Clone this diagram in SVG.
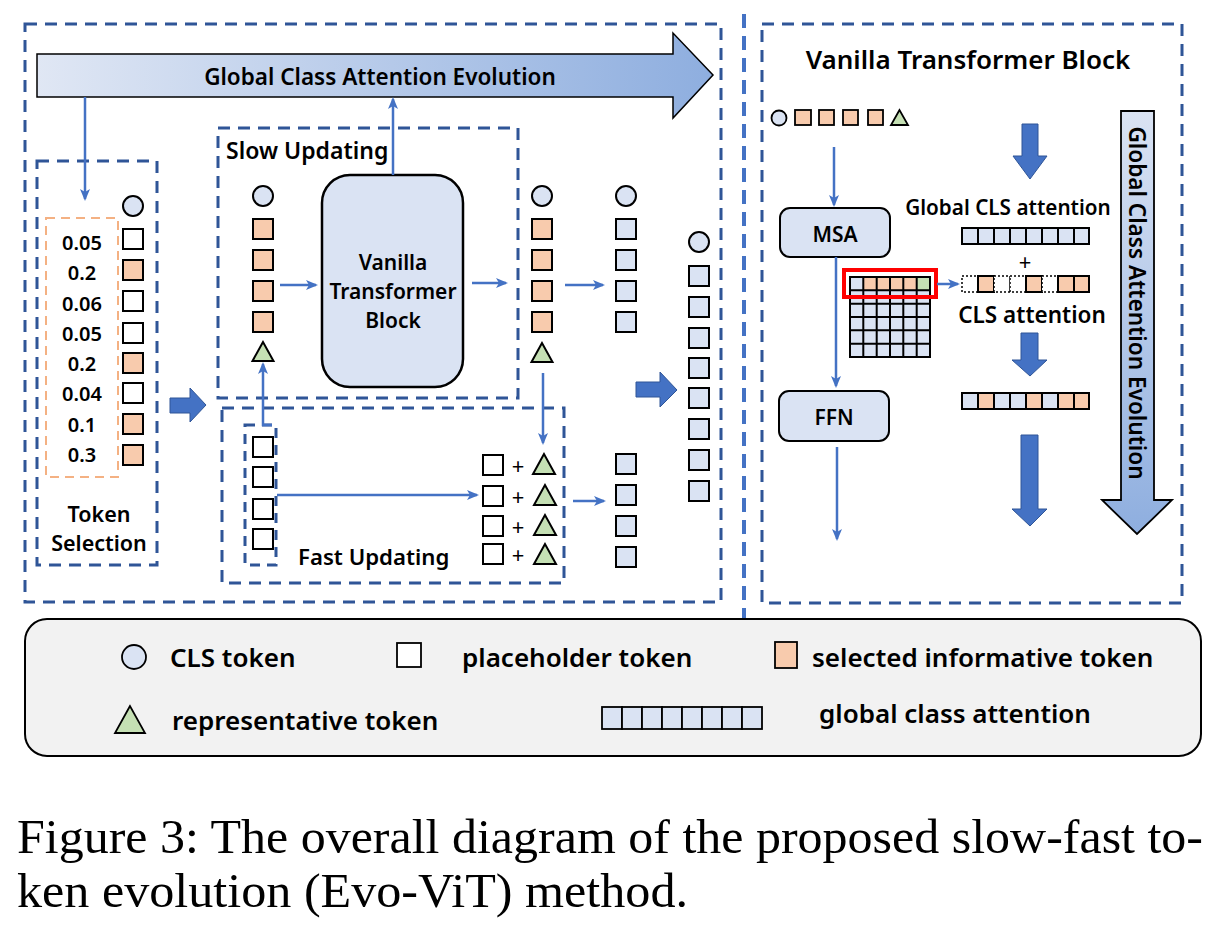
<svg xmlns="http://www.w3.org/2000/svg" width="1223" height="934" viewBox="0 0 1223 934">
<style>
.box{fill:none;stroke:#2f5597;stroke-width:3;stroke-dasharray:12 8}
.cls{fill:#dae3f3;stroke:#000;stroke-width:2}
.ph{fill:#fff;stroke:#000;stroke-width:2}
.sel{fill:#f8cbad;stroke:#000;stroke-width:2}
.rep{fill:#c5e0b4;stroke:#000;stroke-width:2}
.lb{fill:#dae3f3;stroke:#000;stroke-width:2}
.dot{fill:#fff;stroke:#000;stroke-width:1.5;stroke-dasharray:2 2}
.conn{stroke:#4472c4;stroke-width:2.5;fill:none;marker-end:url(#ah)}
.thick{fill:#4472c4;stroke:#2f5597;stroke-width:1}
.t{font-family:"Noto Sans",sans-serif;fill:#000;font-weight:600}
.c{text-anchor:middle;dominant-baseline:central}
.cap{font-family:"Liberation Serif","Times New Roman",Tinos,serif;font-size:48px;fill:#000}
</style>
<defs>
<marker id="ah" markerWidth="12" markerHeight="10" refX="10" refY="5" orient="auto" markerUnits="userSpaceOnUse">
<path d="M0,0 L12,5 L0,10 L3,5 Z" fill="#4472c4"/>
</marker>
<linearGradient id="gh" x1="0" y1="0" x2="1" y2="0">
<stop offset="0" stop-color="#e0e7f4"/><stop offset="1" stop-color="#8eaedf"/>
</linearGradient>
<linearGradient id="gv" x1="0" y1="0" x2="0" y2="1">
<stop offset="0" stop-color="#dae3f3"/><stop offset="1" stop-color="#8eaedf"/>
</linearGradient>
</defs>
<rect width="1223" height="934" fill="#fff"/>

<!-- panels -->
<g id="left-panel"><rect class="box" x="25" y="24" width="696" height="578"/></g>
<g id="right-panel"><rect class="box" x="762" y="24" width="420" height="579"/></g>
<line x1="744" y1="14" x2="744" y2="618" stroke="#4472c4" stroke-width="4" stroke-dasharray="14 8"/>

<!-- global arrow -->
<g id="global-arrow">
<polygon points="37,54 673,54 673,33 713,75 673,118 673,97 37,97" fill="url(#gh)" stroke="#000" stroke-width="1.5"/>
<text class="t c" x="380" y="76" font-size="22.5">Global Class Attention Evolution</text>
</g>

<!-- token selection -->
<g id="token-selection">
<rect class="box" x="37" y="161" width="120" height="404"/>
<rect x="46" y="218" width="72" height="259" fill="none" stroke="#f4b183" stroke-width="2" stroke-dasharray="9 6"/>
<circle class="cls" cx="133" cy="206" r="10"/>
<rect class="ph" x="123" y="229" width="20" height="20"/>
<rect class="sel" x="123" y="260" width="20" height="20"/>
<rect class="ph" x="123" y="291" width="20" height="20"/>
<rect class="ph" x="123" y="323" width="20" height="20"/>
<rect class="sel" x="123" y="353" width="20" height="20"/>
<rect class="ph" x="123" y="383" width="20" height="20"/>
<rect class="sel" x="123" y="414" width="20" height="20"/>
<rect class="sel" x="123" y="445" width="20" height="20"/>
<g class="t" font-size="20" text-anchor="middle" dominant-baseline="central">
<text x="82" y="242">0.05</text>
<text x="82" y="272">0.2</text>
<text x="82" y="303">0.06</text>
<text x="82" y="333">0.05</text>
<text x="82" y="363">0.2</text>
<text x="82" y="393">0.04</text>
<text x="82" y="424">0.1</text>
<text x="82" y="454">0.3</text>
</g>
<text class="t c" x="99" y="513" font-size="21.5">Token</text>
<text class="t c" x="99" y="542" font-size="21.5">Selection</text>
</g>

<!-- slow updating -->
<g id="slow-updating">
<rect class="box" x="218" y="128" width="300" height="270"/>
<text class="t" x="226" y="159" font-size="23">Slow Updating</text>
<circle class="cls" cx="263" cy="196" r="10"/>
<rect class="sel" x="253" y="219" width="20" height="20"/>
<rect class="sel" x="253" y="250" width="20" height="20"/>
<rect class="sel" x="253" y="281" width="20" height="20"/>
<rect class="sel" x="253" y="312" width="20" height="20"/>
<polygon class="rep" points="263,342 252.5,361 273.5,361"/>
</g>
<g id="vanilla-block">
<rect x="322" y="175" width="141" height="212" rx="28" fill="#dae3f3" stroke="#000" stroke-width="2.5"/>
<text class="t c" x="393" y="262" font-size="21">Vanilla</text>
<text class="t c" x="393" y="291" font-size="21">Transformer</text>
<text class="t c" x="393" y="320" font-size="21">Block</text>
</g>
<g id="slow-out">
<circle class="cls" cx="542" cy="196" r="10"/>
<rect class="sel" x="532" y="219" width="20" height="20"/>
<rect class="sel" x="532" y="250" width="20" height="20"/>
<rect class="sel" x="532" y="281" width="20" height="20"/>
<rect class="sel" x="532" y="312" width="20" height="20"/>
<polygon class="rep" points="542,343 531.5,362 552.5,362"/>
</g>
<g id="slow-updated">
<circle class="cls" cx="626" cy="196" r="10"/>
<rect class="lb" x="616" y="219" width="20" height="20"/>
<rect class="lb" x="616" y="250" width="20" height="20"/>
<rect class="lb" x="616" y="281" width="20" height="20"/>
<rect class="lb" x="616" y="312" width="20" height="20"/>
</g>

<!-- fast updating -->
<g id="fast-updating">
<rect class="box" x="222" y="408" width="342" height="175"/>
<text class="t" x="298" y="565" font-size="22.2">Fast Updating</text>
<rect x="245" y="425" width="31" height="140" fill="none" stroke="#2f5597" stroke-width="3" stroke-dasharray="10 7"/>
<rect class="ph" x="253" y="437" width="20" height="20"/>
<rect class="ph" x="253" y="467" width="20" height="20"/>
<rect class="ph" x="253" y="499" width="20" height="20"/>
<rect class="ph" x="253" y="529" width="20" height="20"/>
</g>
<g id="fast-sum">
<rect class="ph" x="483" y="455" width="20" height="20"/>
<rect class="ph" x="483" y="486" width="20" height="20"/>
<rect class="ph" x="483" y="516" width="20" height="20"/>
<rect class="ph" x="483" y="544" width="20" height="20"/>
<g font-family="'Noto Sans',sans-serif" font-size="22" text-anchor="middle" dominant-baseline="central">
<text x="518" y="465">+</text><text x="518" y="496">+</text><text x="518" y="526">+</text><text x="518" y="554">+</text>
</g>
<polygon class="rep" points="544,454 533,474 555,474"/>
<polygon class="rep" points="545,485 534,505 556,505"/>
<polygon class="rep" points="545,515 534,535 556,535"/>
<polygon class="rep" points="545,544 534,564 556,564"/>
</g>
<g id="fast-updated">
<rect class="lb" x="616" y="454" width="20" height="20"/>
<rect class="lb" x="616" y="485" width="20" height="20"/>
<rect class="lb" x="616" y="516" width="20" height="20"/>
<rect class="lb" x="616" y="547" width="20" height="20"/>
</g>
<g id="final-tokens">
<circle class="cls" cx="699" cy="242" r="10"/>
<rect class="lb" x="689" y="266" width="20" height="20"/>
<rect class="lb" x="689" y="297" width="20" height="20"/>
<rect class="lb" x="689" y="328" width="20" height="20"/>
<rect class="lb" x="689" y="358" width="20" height="20"/>
<rect class="lb" x="689" y="388" width="20" height="20"/>
<rect class="lb" x="689" y="419" width="20" height="20"/>
<rect class="lb" x="689" y="450" width="20" height="20"/>
<rect class="lb" x="689" y="481" width="20" height="20"/>
</g>

<!-- right panel -->
<g id="right-title"><text class="t c" x="968" y="59" font-size="26">Vanilla Transformer Block</text></g>
<g id="right-tokens">
<circle cx="779" cy="118" r="7.5" fill="#dae3f3" stroke="#000" stroke-width="1.8"/>
<rect x="795" y="110" width="16" height="15" fill="#f8cbad" stroke="#000" stroke-width="1.8"/>
<rect x="819" y="110" width="15" height="15" fill="#f8cbad" stroke="#000" stroke-width="1.8"/>
<rect x="843" y="110" width="15" height="15" fill="#f8cbad" stroke="#000" stroke-width="1.8"/>
<rect x="868" y="110" width="15" height="15" fill="#f8cbad" stroke="#000" stroke-width="1.8"/>
<polygon points="899.5,110 891,125 908,125" fill="#c5e0b4" stroke="#000" stroke-width="1.8"/>
</g>
<g id="msa">
<rect x="780" y="208" width="110" height="49" rx="10" fill="#dae3f3" stroke="#000" stroke-width="2"/>
<text class="t c" x="835" y="234" font-size="21">MSA</text>
</g>
<g id="ffn">
<rect x="779" y="391" width="110" height="50" rx="10" fill="#dae3f3" stroke="#000" stroke-width="2"/>
<text class="t c" x="834" y="417" font-size="21">FFN</text>
</g>
<g id="attn-matrix">
<rect x="850" y="277" width="80" height="80" fill="#dae3f3"/>
<rect x="863.3" y="277" width="53.4" height="13.3" fill="#f8cbad"/>
<rect x="916.7" y="277" width="13.3" height="13.3" fill="#c5e0b4"/>
<g stroke="#000" stroke-width="2" fill="none">
<rect x="850" y="277" width="80" height="80"/>
<path d="M863.3,277V357M876.7,277V357M890,277V357M903.3,277V357M916.7,277V357M850,290.3H930M850,303.7H930M850,317H930M850,330.3H930M850,343.7H930"/>
</g>
<rect x="844" y="270" width="92" height="27" fill="none" stroke="#ff0000" stroke-width="4"/>
</g>
<g id="global-cls">
<text class="t c" x="1008" y="207" font-size="20.7">Global CLS attention</text>
<g class="lb" stroke-width="2">
<rect x="962" y="228" width="16" height="16"/><rect x="978" y="228" width="16" height="16"/><rect x="994" y="228" width="16" height="16"/><rect x="1010" y="228" width="16" height="16"/><rect x="1026" y="228" width="16" height="16"/><rect x="1042" y="228" width="16" height="16"/><rect x="1058" y="228" width="16" height="16"/><rect x="1074" y="228" width="15" height="16"/>
</g>
<text x="1025" y="261" font-family="'Noto Sans',sans-serif" font-size="22" text-anchor="middle" dominant-baseline="central">+</text>
</g>
<g id="cls-attn">
<rect class="dot" x="962" y="276" width="16" height="16"/>
<rect class="sel" x="978" y="276" width="16" height="16"/>
<rect class="dot" x="994" y="276" width="16" height="16"/>
<rect class="dot" x="1010" y="276" width="16" height="16"/>
<rect class="sel" x="1026" y="276" width="16" height="16"/>
<rect class="dot" x="1042" y="276" width="16" height="16"/>
<rect class="sel" x="1058" y="276" width="16" height="16"/>
<rect class="sel" x="1074" y="276" width="15" height="16"/>
<text class="t c" x="1032" y="314" font-size="22.5">CLS attention</text>
</g>
<g id="updated-global">
<rect class="lb" x="962" y="393" width="16" height="16"/>
<rect class="sel" x="978" y="393" width="16" height="16"/>
<rect class="lb" x="994" y="393" width="16" height="16"/>
<rect class="lb" x="1010" y="393" width="16" height="16"/>
<rect class="sel" x="1026" y="393" width="16" height="16"/>
<rect class="lb" x="1042" y="393" width="16" height="16"/>
<rect class="sel" x="1058" y="393" width="16" height="16"/>
<rect class="sel" x="1074" y="393" width="15" height="16"/>
</g>
<g id="right-evolution-arrow">
<polygon points="1121,111 1154,111 1154,500 1172,500 1137,534 1102,500 1121,500" fill="url(#gv)" stroke="#000" stroke-width="1.8"/>
<text class="t c" transform="translate(1137,303) rotate(90)" font-size="22.6">Global Class Attention Evolution</text>
</g>

<!-- connectors -->
<g id="connectors">
<line class="conn" x1="85" y1="97" x2="85" y2="199"/>
<line class="conn" x1="393" y1="175" x2="393" y2="99"/>
<line class="conn" x1="280" y1="285" x2="316" y2="285"/>
<line class="conn" x1="472" y1="283" x2="506" y2="283"/>
<line class="conn" x1="565" y1="285" x2="603" y2="285"/>
<line class="conn" x1="543" y1="373" x2="543" y2="443"/>
<polyline class="conn" points="272,425 263,425 263,364"/>
<line class="conn" x1="277" y1="495" x2="477" y2="495"/>
<line class="conn" x1="573" y1="501" x2="604" y2="501"/>
<line class="conn" x1="834" y1="147" x2="834" y2="205"/>
<line class="conn" x1="836" y1="257" x2="836" y2="386"/>
<line class="conn" x1="837" y1="447" x2="837" y2="539"/>
<line class="conn" x1="937" y1="284" x2="958" y2="284"/>
<polygon class="thick" points="170,398 190,398 190,388 206,405 190,422 190,413 170,413"/>
<polygon class="thick" points="636,382 660,382 660,372 677,390 660,407 660,397 636,397"/>
<polygon class="thick" points="1022,124 1038,124 1038,156 1047,156 1030,179 1013,156 1022,156"/>
<polygon class="thick" points="1021,333 1038,333 1038,360 1047,360 1030,376 1012,360 1021,360"/>
<polygon class="thick" points="1021,435 1038,435 1038,509 1047,509 1030,526 1012,509 1021,509"/>
</g>

<!-- legend -->
<g id="legend">
<rect x="25" y="619" width="1176" height="137" rx="22" fill="#f2f2f2" stroke="#000" stroke-width="2"/>
<circle cx="134" cy="657" r="12" fill="#dae3f3" stroke="#000" stroke-width="1.8"/>
<text class="t" x="170" y="657" font-size="26" dominant-baseline="central">CLS token</text>
<rect x="397" y="643" width="24" height="24" fill="#fff" stroke="#000" stroke-width="1.8"/>
<text class="t" x="462" y="657" font-size="26" dominant-baseline="central">placeholder token</text>
<rect x="775" y="642" width="22" height="26" fill="#f8cbad" stroke="#000" stroke-width="1.8"/>
<text class="t" x="812" y="657" font-size="26" dominant-baseline="central">selected informative token</text>
<polygon points="130,706 115,733 145,733" fill="#c5e0b4" stroke="#000" stroke-width="1.8"/>
<text class="t" x="172" y="720" font-size="26" dominant-baseline="central">representative token</text>
<g fill="#dae3f3" stroke="#000" stroke-width="1.8">
<rect x="602" y="707" width="20" height="22"/><rect x="622" y="707" width="20" height="22"/><rect x="642" y="707" width="20" height="22"/><rect x="662" y="707" width="20" height="22"/><rect x="682" y="707" width="20" height="22"/><rect x="702" y="707" width="20" height="22"/><rect x="722" y="707" width="20" height="22"/><rect x="742" y="707" width="20" height="22"/>
</g>
<text class="t" x="819" y="713" font-size="26" dominant-baseline="central">global class attention</text>
</g>

<!-- caption -->
<g id="caption" class="cap">
<text x="17" y="853" textLength="1186" lengthAdjust="spacingAndGlyphs">Figure 3: The overall diagram of the proposed slow-fast to-</text>
<text x="17" y="907" textLength="671" lengthAdjust="spacingAndGlyphs">ken evolution (Evo-ViT) method.</text>
</g>
</svg>
